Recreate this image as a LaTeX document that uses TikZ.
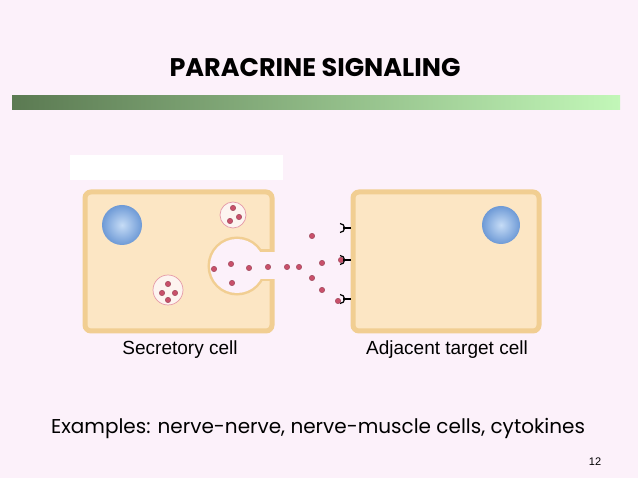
\documentclass[tikz,border=0pt]{standalone}
\usepackage{fontspec}
\setmainfont{Liberation Sans}
\newfontfamily\pop{Poppins}
\begin{document}
\begin{tikzpicture}[x=1pt,y=-1pt,
  cellb/.style={draw=cellborder,line width=5pt,fill=cellfill,rounded corners=6pt},
  nuc/.style={circle,inner color=nucin,outer color=nucout,minimum size=#1,inner sep=0pt},
  mol/.style={circle,fill=molc,draw=molc!70!black,line width=0.3pt,minimum size=5.5pt,inner sep=0pt},
  ves/.style={circle,draw=vesb,fill=vesf,line width=0.7pt,minimum size=#1,inner sep=0pt},
  lab/.style={font=\fontsize{19}{22}\selectfont}]
\definecolor{bg}{HTML}{FCF1FA}
\definecolor{cellfill}{HTML}{FCE6C4}
\definecolor{cellborder}{HTML}{F1CE92}
\definecolor{nucin}{HTML}{C6DCF6}
\definecolor{nucout}{HTML}{6E9AD6}
\definecolor{molc}{HTML}{C8506A}
\definecolor{vesb}{HTML}{E59AA8}
\definecolor{vesf}{HTML}{FDF4F0}
\definecolor{gdark}{HTML}{5B7A52}
\definecolor{glight}{HTML}{C2F7B8}
\fill[bg] (0,0) rectangle (638,478);
\node[font=\pop\bfseries\fontsize{25.5}{29}\selectfont] (title) at (315,68) {PARACRINE SIGNALING};
\shade[left color=gdark,right color=glight] (12,96) rectangle (620,110);
\fill[white] (70,155) rectangle (283,180);
% left cell
\draw[cellb] (85,192) rectangle (272,331);
\begin{scope}
\clip (80,185) rectangle (272,340);
\draw[cellborder,line width=5pt] (237,266) circle (27);
\draw[cellborder,line width=5pt] (237,252) rectangle (290,279);
\end{scope}
\fill[bg] (237,266) circle (27);
\fill[bg] (237,252) rectangle (290,279);
% right cell
\draw[cellb] (353,192) rectangle (539,331);
\node[nuc=40pt] (n1) at (122,225) {};
\node[nuc=38pt] (n2) at (501,225) {};
\node[ves=26pt] (v1) at (233,215) {};
\node[ves=30pt] (v2) at (168,290) {};
\foreach \p [count=\i] in {(233,208),(230,221),(239,217),(168,284),(162,293),(175,293),(168,300),
 (214,269),(231,264),(232,283),(249,268),(268,267),(287,267),(299,267),(312,236),(322,263),(312,278),(322,290),(341,260),(338,301)}
  \node[mol] (m\i) at \p {};
\foreach \yy [count=\i] in {228,260,299}{
  \coordinate (r\i) at (351,\yy);
  \coordinate (a\i) at (340,\yy-4.5);
  \coordinate (b\i) at (340,\yy+4.5);
  \draw[line width=1.2pt] (r\i) -- ++(-8,0);
  \draw[line width=1.2pt] (a\i) .. controls ++(6,0) and ++(6,0) .. (b\i);
}
\node[lab] (l1) at (180,350) {Secretory cell};
\node[lab] (l2) at (447,350) {Adjacent target cell};
\node[font=\pop\fontsize{20}{24}\selectfont] (ex) at (318,428) {Examples: nerve-nerve, nerve-muscle cells, cytokines};
\node[font=\fontsize{11}{13}\selectfont] (pg) at (595,462) {12};
\end{tikzpicture}
\end{document}
